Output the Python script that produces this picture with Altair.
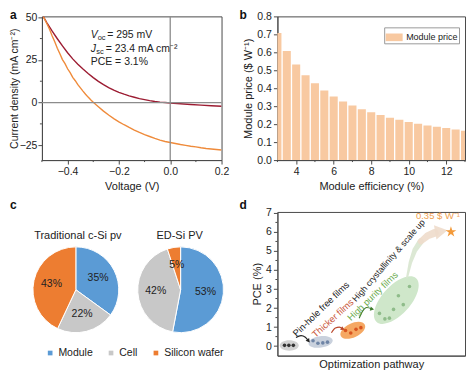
import altair as alt
import pandas as pd

FONT = "Liberation Sans"
INK = "#222222"
FRAME = "#4a4a4a"

panel_letters = ["a", "b", "c", "d"]

# ---------------- panel a : J-V curves ----------------
voltage_red = [-0.495, -0.48, -0.46, -0.44, -0.42, -0.40, -0.38, -0.36, -0.34, -0.32, -0.30,
               -0.28, -0.26, -0.24, -0.22, -0.20, -0.18, -0.16, -0.14, -0.12, -0.10,
               -0.08, -0.06, -0.04, -0.02, 0.00, 0.04, 0.08, 0.12, 0.16, 0.20]
current_red = [50.5, 46.6, 41.8, 37.4, 33.2, 29.2, 25.6, 22.5, 19.6, 17.0, 14.6,
               12.4, 10.5, 8.8, 7.3, 6.0, 4.9, 3.9, 3.1, 2.3, 1.7,
               1.1, 0.6, 0.25, 0.0, -0.3, -0.7, -1.1, -1.5, -1.9, -2.2]
voltage_orange = [-0.495, -0.48, -0.47, -0.46, -0.45, -0.44, -0.43, -0.42, -0.41, -0.40,
                  -0.39, -0.38, -0.37, -0.36, -0.35, -0.34, -0.33, -0.32, -0.31, -0.30,
                  -0.29, -0.28, -0.26, -0.24, -0.22, -0.20, -0.18, -0.16, -0.14, -0.12,
                  -0.10, -0.08, -0.06, -0.04, -0.02, 0.00, 0.02, 0.04, 0.06, 0.08,
                  0.10, 0.12, 0.14, 0.16, 0.18, 0.20]
current_orange = [50.5, 46.0, 42.8, 39.0, 35.6, 31.8, 28.6, 25.2, 22.8, 19.8,
                  17.5, 14.8, 12.8, 10.5, 8.6, 6.7, 4.9, 3.2, 1.6, 0.2,
                  -1.2, -2.5, -5.0, -7.3, -9.4, -11.3, -13.0, -14.6, -16.1, -17.5,
                  -18.8, -19.9, -21.0, -22.0, -22.8, -23.4, -24.0, -24.6, -25.1, -25.6,
                  -26.0, -26.5, -26.9, -27.2, -27.5, -27.8]
curve_colors = ["#9c1c32", "#ef8b3b"]
zero_line_color = "#8c8c8c"
a_major_v = [-0.4, -0.2, 0.0, 0.2]
a_minor_v = [-0.5, -0.3, -0.1, 0.1]
a_major_j = [-25, 0, 25, 50]
a_minor_j = [-12.5, 12.5, 37.5]
annotation_v = -0.31
annotation_j = [39.3, 31.5, 23.7]
annotation_symbols = ["V", "J"]
annotation_subs = ["oc", "sc"]
annotation_rest = ["= 295 mV", "= 23.4 mA cm\u207b\u00b2", "PCE = 3.1%"]

# ---------------- panel b : module price ----------------
module_eff = [3.0, 3.5, 4.0, 4.5, 5.0, 5.5, 6.0, 6.5, 7.0, 7.5, 8.0, 8.5, 9.0, 9.5,
              10.0, 10.5, 11.0, 11.5, 12.0, 12.5, 13.0]
module_price = [0.708, 0.607, 0.532, 0.472, 0.427, 0.387, 0.354, 0.326, 0.304, 0.283,
                0.266, 0.251, 0.236, 0.224, 0.212, 0.202, 0.193, 0.185, 0.178, 0.170, 0.163]
bar_color = "#f8c9a1"
b_major_x = [4, 6, 8, 10, 12]
b_minor_x = [3, 5, 7, 9, 11, 13]
b_ticks_y = [0, 0.1, 0.2, 0.3, 0.4, 0.5, 0.6, 0.7, 0.8]

# ---------------- panel c : cost shares ----------------
cost_parts = ["Module", "Cell", "Silicon wafer"]
cost_colors = ["#5b9bd5", "#c8c8c8", "#ed7d31"]
share_traditional = [35, 22, 43]
share_edsi = [53, 42, 5]
pie_titles = ["Traditional c-Si pv", "ED-Si PV"]

# ---------------- panel d : optimization pathway ----------------
d_major_y = [0, 1, 2, 3, 4, 5, 6, 7]
d_minor_y = [0.5, 1.5, 2.5, 3.5, 4.5, 5.5, 6.5]
dot_x = [0.38, 0.61, 0.85, 1.90, 2.16, 2.42, 2.67, 3.63, 3.91, 4.19, 4.45,
         5.44, 5.73, 5.97, 6.19, 6.45, 6.71, 7.04]
dot_y = [0.04, 0.04, 0.04, 0.28, 0.15, 0.17, 0.21, 0.82, 0.69, 0.88, 0.97,
         1.72, 1.43, 1.47, 1.93, 2.65, 2.18, 3.13]
dot_group = [0, 0, 0, 1, 1, 1, 1, 2, 2, 2, 2, 3, 3, 3, 3, 3, 3, 3]
group_dot_colors = ["#333333", "#6f85a6", "#d9541f", "#8fbc8a"]
ellipse_x = [0.63, 2.30, 4.02, 6.34]
ellipse_y = [0.03, 0.22, 0.83, 2.42]
ellipse_rx = [9.5, 12.2, 13.3, 29.5]
ellipse_ry = [5.2, 5.7, 7.1, 14.3]
ellipse_tilt = [0, 352, 335, 312]
ellipse_colors = ["#d2d2d2", "#c9d1dd", "#f5a863", "#cfe7ca"]
arrow_x = [0.99, 1.26, 1.49, 1.66, 2.88, 3.09, 3.30, 3.49, 4.36, 4.55, 4.76, 5.05]
arrow_y = [0.45, 0.55, 0.47, 0.27, 0.70, 0.95, 1.00, 0.90, 1.47, 1.85, 2.03, 1.95]
arrow_id = [0, 0, 0, 0, 1, 1, 1, 1, 2, 2, 2, 2]
arrow_colors = ["#222222", "#b9472b", "#3f7d2e"]
head_angles = [52, 27, 14]
big_x = [6.91, 7.09, 7.33, 7.64, 8.01, 8.38]
big_y = [3.60, 4.40, 5.05, 5.50, 5.80, 5.95]
big_w = [2, 3.5, 5, 6, 7, 8]
big_head = (8.74, 6.03)
star_point = (9.25, 6.0)
star_label = "0.35 $ W\u207b\u00b9"
star_label_pos = (8.56, 6.85)
step_labels = ["Pin-hole free films", "Thicker films", "High purity films"]
step_x = [2.33, 2.96, 5.08]
step_y = [1.95, 1.46, 2.62]
step_angle = [316, 318, 316]
step_colors = ["#1a1a1a", "#c9573a", "#6aab4d"]
scale_label = "High crystallinity & scale up"
scale_label_pos = (5.92, 4.50)
scale_label_angle = 311

W_LEFT, W_RIGHT, H_ROW = 180, 188, 144


def panel_label(letter, px, py):
    return alt.Chart(pd.DataFrame({"t": [letter]})).mark_text(
        fontSize=12, fontWeight="bold", align="left", baseline="middle", color="#111111"
    ).encode(text="t:N", x=alt.value(px), y=alt.value(py))


def minor_y_ticks(vals, field):
    return alt.Chart(pd.DataFrame({field: vals})).mark_rule(color=FRAME, strokeWidth=1).encode(
        y=f"{field}:Q", x=alt.value(0), x2=alt.value(-2))


def minor_x_ticks(vals, field, h):
    return alt.Chart(pd.DataFrame({field: vals})).mark_rule(color=FRAME, strokeWidth=1).encode(
        x=f"{field}:Q", y=alt.value(h), y2=alt.value(h + 2))


# ================= panel a =================
df_a = pd.concat([
    pd.DataFrame({"v": voltage_red, "j": current_red, "col": curve_colors[0]}),
    pd.DataFrame({"v": voltage_orange, "j": current_orange, "col": curve_colors[1]}),
])
xa = alt.X("v:Q", scale=alt.Scale(domain=[-0.5, 0.2], nice=False, zero=False),
           axis=alt.Axis(title="Voltage (V)", values=a_major_v, format=".1f"))
ya = alt.Y("j:Q", scale=alt.Scale(domain=[-33.7, 50.5], nice=False, zero=False),
           axis=alt.Axis(title="Current density (mA cm\u207b\u00b2)", values=a_major_j,
                         labelPadding=1, titlePadding=0, titleFontSize=10.5))
zero_h = alt.Chart(pd.DataFrame({"j": [0]})).mark_rule(color=zero_line_color, strokeWidth=1.3).encode(y="j:Q")
zero_v = alt.Chart(pd.DataFrame({"v": [0]})).mark_rule(color=zero_line_color, strokeWidth=1.3).encode(x="v:Q")
lines_a = alt.Chart(df_a).mark_line(strokeWidth=1.4, clip=True).encode(
    x=xa, y=ya, color=alt.Color("col:N", scale=None))


def ann(v, j, t, size=10.5, dx=0, dy=0, italic=False):
    kw = dict(fontSize=size, align="left", baseline="middle", dx=dx, dy=dy, color=INK)
    if italic:
        kw["fontStyle"] = "italic"
    return alt.Chart(pd.DataFrame({"v": [v], "j": [j], "t": [t]})).mark_text(**kw).encode(
        x="v:Q", y="j:Q", text="t:N")


ann_layers = [
    ann(annotation_v, annotation_j[0], annotation_symbols[0], italic=True),
    ann(annotation_v, annotation_j[1], annotation_symbols[1], italic=True),
    ann(annotation_v, annotation_j[0], annotation_subs[0], size=7.5, dx=7, dy=3),
    ann(annotation_v, annotation_j[1], annotation_subs[1], size=7.5, dx=5.5, dy=3),
    ann(annotation_v, annotation_j[0], annotation_rest[0], dx=16.5),
    ann(annotation_v, annotation_j[1], annotation_rest[1], dx=15),
    ann(annotation_v, annotation_j[2], annotation_rest[2]),
]
panel_a = alt.layer(lines_a, zero_h, zero_v, minor_x_ticks(a_minor_v, "v", H_ROW),
                    minor_y_ticks(a_minor_j, "j"), *ann_layers,
                    panel_label(panel_letters[0], -32, -1)).properties(width=W_LEFT, height=H_ROW)

# ================= panel b =================
df_b = pd.DataFrame({"eff": module_eff, "price": module_price, "series": "Module price"})
bars = alt.Chart(df_b).transform_calculate(
    lo="datum.eff - 0.215", hi="datum.eff + 0.215"
).mark_bar(clip=True).encode(
    x=alt.X("lo:Q", scale=alt.Scale(domain=[3, 13], nice=False, zero=False),
            axis=alt.Axis(title="Module efficiency (%)", values=b_major_x, format="d")),
    x2="hi:Q",
    y=alt.Y("price:Q", scale=alt.Scale(domain=[0, 0.8], nice=False),
            axis=alt.Axis(title="Module price ($ W\u207b\u00b9)", values=b_ticks_y,
                          format=".1f", titlePadding=3)),
    y2=alt.datum(0),
    color=alt.Color("series:N", scale=alt.Scale(domain=["Module price"], range=[bar_color]),
                    legend=alt.Legend(title=None, orient="none", legendX=107, legendY=11,
                                      symbolType="M-1,-0.45H1V0.45H-1Z", symbolSize=290,
                                      symbolStrokeWidth=0, labelFontSize=9, labelOffset=3,
                                      strokeColor="#9a9a9a", padding=1)),
)
panel_b = alt.layer(bars, minor_x_ticks(b_minor_x, "lo", H_ROW),
                    panel_label(panel_letters[1], -38, -1)).properties(width=W_RIGHT, height=H_ROW)

# ================= panel c =================
df_trad = pd.DataFrame({"part": cost_parts, "share": share_traditional, "o": [0, 1, 2]})
df_edsi = pd.DataFrame({"part": cost_parts, "share": share_edsi, "o": [0, 1, 2]})
df_trad["lab"] = df_trad["share"].astype(str) + "%"
df_edsi["lab"] = df_edsi["share"].astype(str) + "%"
pie_color = alt.Color("part:N", scale=alt.Scale(domain=cost_parts, range=cost_colors),
                      legend=alt.Legend(title=None, orient="none", legendX=3, legendY=136,
                                        direction="horizontal", columns=3, symbolType="square",
                                        symbolSize=22, symbolStrokeWidth=0, columnPadding=13,
                                        labelOffset=3, labelFontSize=10.5, padding=0))


def pie(df, cx, cy):
    arcs = alt.Chart(df).mark_arc(outerRadius=43, stroke="white", strokeWidth=1).encode(
        theta=alt.Theta("share:Q", stack=True), color=pie_color, order=alt.Order("o:Q"),
        x=alt.value(cx), y=alt.value(cy))
    labs = alt.Chart(df).mark_text(radius=25, fontSize=10.5, color=INK).encode(
        theta=alt.Theta("share:Q", stack=True), order=alt.Order("o:Q"), text="lab:N",
        x=alt.value(cx), y=alt.value(cy))
    return arcs, labs


a1, l1 = pie(df_trad, 34, 78)
a2, l2 = pie(df_edsi, 139, 78)
t1 = alt.Chart(pd.DataFrame({"t": [pie_titles[0]]})).mark_text(fontSize=11, color=INK).encode(
    text="t:N", x=alt.value(36), y=alt.value(24))
t2 = alt.Chart(pd.DataFrame({"t": [pie_titles[1]]})).mark_text(fontSize=11, color=INK).encode(
    text="t:N", x=alt.value(138), y=alt.value(24))
panel_c = alt.layer(a1, a2, l1, l2, t1, t2, panel_label(panel_letters[2], -32, -7)).properties(
    width=W_LEFT, height=H_ROW, view=alt.ViewBackground(stroke="transparent"))

# ================= panel d =================
xd = alt.X("x:Q", scale=alt.Scale(domain=[0, 10], nice=False, zero=False),
           axis=alt.Axis(title="Optimization pathway", labels=False, ticks=False, titlePadding=3))
yd = alt.Y("y:Q", scale=alt.Scale(domain=[-0.5, 7.05], nice=False, zero=False),
           axis=alt.Axis(title="PCE (%)", values=d_major_y, tickCount=8, titlePadding=3,
                         labelOverlap=False))
df_ell = pd.DataFrame({
    "x": ellipse_x, "y": ellipse_y,
    "shape": [f"M-1,0A1,{ry / rx:.3f},0,1,0,1,0A1,{ry / rx:.3f},0,1,0,-1,0Z" for rx, ry in zip(ellipse_rx, ellipse_ry)],
    "size": [(2 * rx) ** 2 for rx in ellipse_rx],
    "ang": ellipse_tilt, "col": ellipse_colors,
})
ell = alt.Chart(df_ell).mark_point(filled=True, opacity=1, strokeWidth=0).encode(
    x=xd, y=yd, shape=alt.Shape("shape:N", scale=None), size=alt.Size("size:Q", scale=None),
    angle=alt.Angle("ang:Q", scale=None), color=alt.Color("col:N", scale=None))
df_dots = pd.DataFrame({"x": dot_x, "y": dot_y, "col": [group_dot_colors[g] for g in dot_group]})
dots = alt.Chart(df_dots).mark_circle(size=13, opacity=1).encode(
    x="x:Q", y="y:Q", color=alt.Color("col:N", scale=None))
df_arr = pd.DataFrame({"x": arrow_x, "y": arrow_y, "id": arrow_id,
                       "col": [arrow_colors[i] for i in arrow_id]})
arr_lines = alt.Chart(df_arr).mark_line(strokeWidth=1.2, interpolate="monotone").encode(
    x="x:Q", y="y:Q", detail="id:N", color=alt.Color("col:N", scale=None))
df_heads = df_arr.groupby("id").tail(1).copy()
df_heads["ang"] = head_angles
arr_heads = alt.Chart(df_heads).mark_point(shape="triangle-right", filled=True, opacity=1, size=20).encode(
    x="x:Q", y="y:Q", angle=alt.Angle("ang:Q", scale=None), color=alt.Color("col:N", scale=None))
df_big1 = pd.DataFrame({"x": big_x[:4], "y": big_y[:4], "w": big_w[:4]})
df_big2 = pd.DataFrame({"x": big_x[3:], "y": big_y[3:], "w": big_w[3:]})
big1 = alt.Chart(df_big1).mark_trail(color="#d8e6cf", opacity=0.9).encode(
    x="x:Q", y="y:Q", size=alt.Size("w:Q", scale=None))
big2 = alt.Chart(df_big2).mark_trail(color="#eedccb", opacity=0.9).encode(
    x="x:Q", y="y:Q", size=alt.Size("w:Q", scale=None))
big_head_mark = alt.Chart(pd.DataFrame({"x": [big_head[0]], "y": [big_head[1]]})).mark_point(
    shape="triangle-right", filled=True, opacity=0.9, size=210, angle=350, color="#eedccb").encode(x="x:Q", y="y:Q")
STAR = "M0,-1L0.2245,-0.309L0.951,-0.309L0.363,0.118L0.588,0.809L0,0.382L-0.588,0.809L-0.363,0.118L-0.951,-0.309L-0.2245,-0.309Z"
star = alt.Chart(pd.DataFrame({"x": [star_point[0]], "y": [star_point[1]]})).mark_point(
    shape=STAR, filled=True, opacity=1, size=130, color="#f39a3a").encode(x="x:Q", y="y:Q")
star_txt = alt.Chart(pd.DataFrame({"x": [star_label_pos[0]], "y": [star_label_pos[1]], "t": [star_label]})).mark_text(
    fontSize=9.5, color="#f0a050").encode(x="x:Q", y="y:Q", text="t:N")
df_steps = pd.DataFrame({"x": step_x, "y": step_y, "t": step_labels, "ang": step_angle,
                         "col": step_colors})
steps = alt.Chart(df_steps).mark_text(fontSize=9.3).encode(
    x="x:Q", y="y:Q", text="t:N", angle=alt.Angle("ang:Q", scale=None),
    color=alt.Color("col:N", scale=None))
scale_txt = alt.Chart(pd.DataFrame({"x": [scale_label_pos[0]], "y": [scale_label_pos[1]],
                                    "t": [scale_label]})).mark_text(
    fontSize=8.7, angle=scale_label_angle, color="#1a1a1a").encode(x="x:Q", y="y:Q", text="t:N")
panel_d = alt.layer(ell, dots, arr_lines, arr_heads, big1, big2, big_head_mark, star, star_txt, steps,
                    scale_txt, minor_y_ticks(d_minor_y, "y"),
                    panel_label(panel_letters[3], -38, -7)).properties(width=W_RIGHT, height=H_ROW)

chart = alt.concat(panel_a, panel_b, panel_c, panel_d, columns=2,
                   spacing={"row": 52, "column": 56}, bounds="flush").resolve_scale(
    color="independent").properties(padding=0).configure(font=FONT).configure_axis(
    labelFont=FONT, titleFont=FONT, labelFontSize=10.5, titleFontSize=11, titleFontWeight="normal",
    domainColor=FRAME, tickColor=FRAME, labelColor=INK, titleColor=INK, grid=False,
    labelPadding=2, labelFlush=False, labelOverlap=False, tickSize=4
).configure_view(stroke=FRAME, strokeWidth=1).configure_legend(labelFont=FONT, labelColor=INK)

chart.save("out.html", embed_options={"renderer": "svg", "actions": False})
